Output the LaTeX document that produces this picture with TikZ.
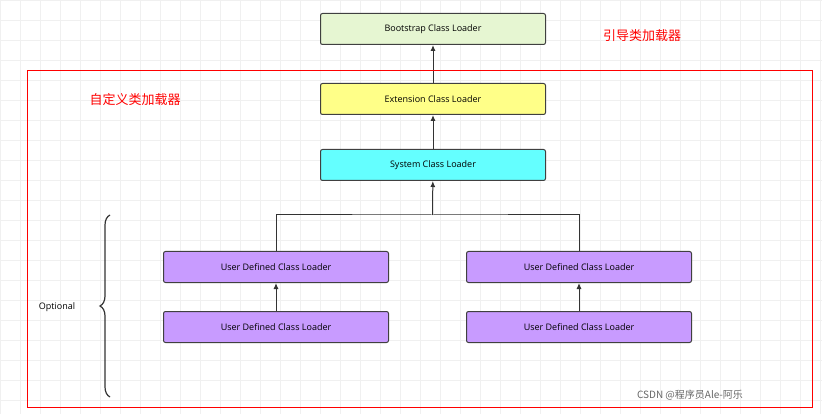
\documentclass[tikz,border=0pt]{standalone}
\usepackage{fontspec}
\setmainfont{Open Sans}
\newfontfamily\cjk{Noto Sans CJK SC}
\usetikzlibrary{decorations.pathreplacing,arrows.meta}
\begin{document}
\begin{tikzpicture}[x=1pt,y=-1pt,
  box/.style={draw=black!75,line width=1pt,rounded corners=2pt,minimum width=225pt,minimum height=31pt,font=\fontsize{9}{10}\selectfont,anchor=north west},
  con/.style={draw=black!80,line width=1pt,-{Latex[length=6pt,width=5pt]}}]
\useasboundingbox (0,0) rectangle (822,414);
\fill[white] (0,0) rectangle (822,414);
\draw[black!6,step=20pt] (0,0) grid (822,414);
\node[box,fill={rgb,255:red,230;green,246;blue,210}] (boot) at (320,13) {Bootstrap Class Loader};
\node[box,fill={rgb,255:red,255;green,255;blue,136}] (ext) at (320,83) {Extension Class Loader};
\node[box,fill={rgb,255:red,100;green,255;blue,255}] (sys) at (320,149) {System Class Loader};
\node[box,fill={rgb,255:red,200;green,155;blue,255}] (u1) at (163,251) {User Defined Class Loader};
\node[box,fill={rgb,255:red,200;green,155;blue,255}] (u2) at (163,311) {User Defined Class Loader};
\node[box,fill={rgb,255:red,200;green,155;blue,255}] (u3) at (466,251) {User Defined Class Loader};
\node[box,fill={rgb,255:red,200;green,155;blue,255}] (u4) at (466,311) {User Defined Class Loader};
\draw[con] (ext) -- (boot);
\draw[con] (sys) -- (ext);
\draw[con] (u2) -- (u1);
\draw[con] (u4) -- (u3);
\coordinate (j) at (432.5,215);
\draw[black!80,line width=1pt] (u1.north) |- (j) -| (u3.north);
\draw[con] (j) -- (sys);
\draw[red,line width=0.8pt] (27,70) rectangle (812,407);
\node[red,font=\cjk\fontsize{13}{14}\selectfont] (t1) at (642,36) {引导类加载器};
\node[red,font=\cjk\fontsize{13}{14}\selectfont] (t2) at (135,100) {自定义类加载器};
\draw[black!80,line width=1.2pt,decorate,decoration={brace,amplitude=10pt}] (110,397) -- (110,215);
\node[font=\fontsize{9}{10}\selectfont] (opt) at (57,307) {Optional};
\node[black!60,font=\cjk\fontsize{10}{11}\selectfont] (wm) at (690,395) {CSDN @程序员Ale-阿乐};
\end{tikzpicture}
\end{document}
